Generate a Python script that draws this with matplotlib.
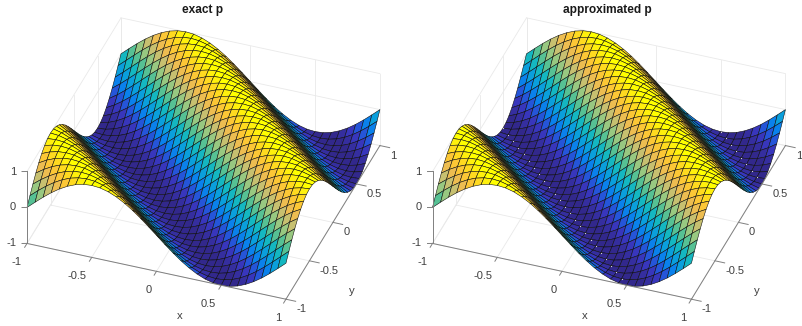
import numpy as np
import matplotlib
matplotlib.use("Agg")
import matplotlib.pyplot as plt
from matplotlib.colors import LinearSegmentedColormap
from mpl_toolkits.mplot3d import proj3d

plt.rcParams['font.family'] = ['Liberation Sans', 'DejaVu Sans']

# p only depends on i + j on this mesh, so one profile per panel is enough
exact_p = [
    0.0, 0.195, 0.383, 0.556, 0.707, 0.831, 0.924, 0.981, 1.0, 0.981, 0.924, 0.831, 0.707, 0.556, 0.383, 0.195,
    0.0, -0.195, -0.383, -0.556, -0.707, -0.831, -0.924, -0.981, -1.0, -0.981, -0.924, -0.831, -0.707, -0.556, -0.383, -0.195,
    0.0, 0.195, 0.383, 0.556, 0.707, 0.831, 0.924, 0.981, 1.0, 0.981, 0.924, 0.831, 0.707, 0.556, 0.383, 0.195,
    0.0, -0.195, -0.383, -0.556, -0.707, -0.831, -0.924, -0.981, -1.0, -0.981, -0.924, -0.831, -0.707, -0.556, -0.383, -0.195,
    0.0]
approx_p = [
    0.0, 0.195, 0.383, 0.556, 0.707, 0.831, 0.924, 0.981, 1.0, 0.981, 0.924, 0.831, 0.707, 0.556, 0.383, 0.195,
    0.0, -0.195, -0.383, -0.556, -0.707, -0.831, -0.924, -0.981, -1.002, -0.981, -0.924, -0.831, -0.707, -0.556, -0.383, -0.195,
    0.0, 0.195, 0.383, 0.556, 0.707, 0.831, 0.924, 0.981, 1.0, 0.981, 0.924, 0.831, 0.707, 0.556, 0.383, 0.195,
    0.0, -0.195, -0.383, -0.556, -0.707, -0.831, -0.924, -0.981, -1.002, -0.981, -0.924, -0.831, -0.707, -0.556, -0.383, -0.195,
    0.0]
titles = ["exact p", "approximated p"]
x_ticks = [-1, -0.5, 0, 0.5, 1]
y_ticks = [-1, -0.5, 0, 0.5, 1]
z_ticks = [-1, 0, 1]
tick_labels = {-1: "-1", -0.5: "-0.5", 0: "0", 0.5: "0.5", 1: "1"}

# parula as it looks in the reference, a bit more saturated than the stock table
parula = LinearSegmentedColormap.from_list("parula", [
    "#32288c", "#3a3ac8", "#0a78f0", "#0a9fdc", "#14b8c0", "#50c096",
    "#96c882", "#c8c070", "#f8bc48", "#ffd028", "#ffff00"], N=64)

W, H = 802, 326
AX_PX = 420
GRID = "#e9e9e9"
AXIS = "#808080"
TEXT = "#404040"


def label3d(ax, x, y, z, s, ha):
    xp, yp, _ = proj3d.proj_transform(x, y, z, ax.get_proj())
    ax.text2D(xp, yp, s, transform=ax.transData, ha=ha, va="center", fontsize=8, color=TEXT)


def draw_panel(left_px, profile, title, title_x):
    ax = fig.add_axes([left_px / W, -48.2 / H, AX_PX / W, AX_PX / H], projection="3d",
                      proj_type="ortho", computed_zorder=False)
    ax.view_init(elev=36.4, azim=-70.05)
    ax.set_xlim(-1, 1)
    ax.set_ylim(-1, 1)
    ax.set_zlim(-1, 1)
    ax.set_box_aspect((1, 1, 0.3245), zoom=388 / AX_PX)
    ax.set_axis_off()
    ax.patch.set_visible(False)  # the two axes overlap a little

    # back walls and floor
    for t in x_ticks:
        ax.plot([t, t], [-1, 1], [-1, -1], color=GRID, lw=0.6, zorder=1)
        ax.plot([t, t], [1, 1], [-1, 1], color=GRID, lw=0.6, zorder=1)
    for t in y_ticks:
        ax.plot([-1, 1], [t, t], [-1, -1], color=GRID, lw=0.6, zorder=1)
        ax.plot([-1, -1], [t, t], [-1, 1], color=GRID, lw=0.6, zorder=1)
    for t in z_ticks:
        ax.plot([-1, 1], [1, 1], [t, t], color=GRID, lw=0.6, zorder=1)
        ax.plot([-1, -1], [-1, 1], [t, t], color=GRID, lw=0.6, zorder=1)

    n = (len(profile) - 1) // 2
    grid = np.linspace(-1, 1, n + 1)
    X, Y = np.meshgrid(grid, grid)
    I, J = np.meshgrid(np.arange(n + 1), np.arange(n + 1))
    Z = np.array(profile)[I + J]
    ax.plot_surface(X, Y, Z, facecolors=parula((np.clip(Z, -1, 1) + 1) / 2), rstride=1, cstride=1,
                    edgecolor="#0a0a0a", linewidth=0.38, shade=False, antialiased=True, zorder=2)

    # vertices past the z limit leave small holes in the surface
    below = Z < -1
    if below.any():
        ax.plot(X[below], Y[below], Z[below], ls="none", marker="o", ms=0.9, mew=0,
                color="#d8d8d8", zorder=3)

    # axis lines, ticks, tick labels
    ax.plot([-1, 1], [-1, -1], [-1, -1], color=AXIS, lw=0.7, zorder=4)
    ax.plot([1, 1], [-1, 1], [-1, -1], color=AXIS, lw=0.7, zorder=4)
    ax.plot([-1, -1], [-1, -1], [-1, 1], color=AXIS, lw=0.7, zorder=4)
    for t in x_ticks:
        ax.plot([t, t], [-1, -1.05], [-1, -1], color=AXIS, lw=0.7, zorder=4)
        label3d(ax, t + 0.043, -1.226, -1, tick_labels[t], "right")
    for t in y_ticks:
        ax.plot([1, 1.075], [t, t], [-1, -1], color=AXIS, lw=0.7, zorder=4)
        label3d(ax, 1.112, t - 0.09, -1, tick_labels[t], "left")
    for t in z_ticks:
        ax.plot([-1, -1.034], [-1, -1.013], [t, t], color=AXIS, lw=0.7, zorder=4)
        label3d(ax, -1.075, -1.0275, t, tick_labels[t], "right")

    fig.text(title_x / W, 1 - 10.5 / H, title, ha="center", va="center", fontsize=8.6,
             fontweight="bold", color="#1a1a1a")
    fig.text((title_x - 23) / W, 1 - 316 / H, "x", ha="center", va="center", fontsize=8.2, color=TEXT)
    fig.text((title_x + 149) / W, 1 - 291 / H, "y", ha="center", va="center", fontsize=8.2, color=TEXT)


fig = plt.figure(figsize=(W / 100, H / 100), dpi=100)
draw_panel(-12.2, exact_p, titles[0], 203)
draw_panel(393.3, approx_p, titles[1], 607.5)
fig.savefig("out.png", dpi=100)
